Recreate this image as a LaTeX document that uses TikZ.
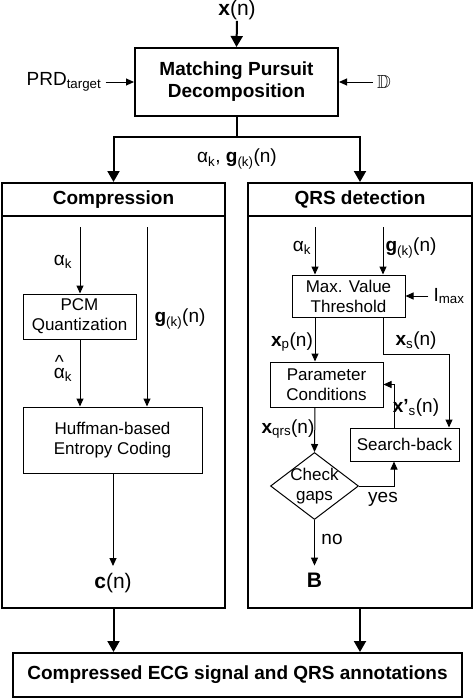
\documentclass[tikz,border=0pt]{standalone}
\usepackage{amssymb}
\usepackage{fontspec}
\setmainfont{Liberation Sans}
\usetikzlibrary{arrows.meta,shapes.geometric,positioning}
\newcommand{\sub}[1]{\textsubscript{#1}}
\newcommand{\hatalpha}{\ooalign{α\cr\hidewidth\raisebox{0.5em}{\^{}}\hidewidth\cr}}

\tikzset{
    blk/.style={draw, line width=1pt, align=center, inner sep=0pt, font=\fontsize{17}{20}\selectfont},
    bigblk/.style={draw, line width=2pt, align=center, inner sep=0pt, font=\bfseries\fontsize{19}{22}\selectfont},
    arr/.style={line width=1pt, -{Triangle[width=7pt,length=8pt]}},
    bigarr/.style={line width=2pt, -{Triangle[width=12pt,length=11pt]}},
    lbl/.style={font=\fontsize{19}{22}\selectfont, inner sep=1pt},
    biglbl/.style={font=\fontsize{21}{24}\selectfont, inner sep=1pt}
}

\begin{document}
\begin{tikzpicture}[x=1pt, y=-1pt]
    \useasboundingbox (0,0) rectangle (474,699);

    % Input and decomposition
    \node[biglbl] (xin) at (237,10) {\textbf{x}(n)};
    \node[bigblk, minimum width=203pt, minimum height=68pt] (mpd) at (236.5,82) {Matching Pursuit\\Decomposition};
    \node[lbl, inner sep=4pt] (prd) at (64,82) {PRD\sub{target}};
    \node[lbl, inner sep=4pt] (dict) at (384,82) {$\mathbb{D}$};
    \draw[bigarr] (xin.south) -- (mpd.north);
    \draw[arr] (prd.east) -- (mpd.west);
    \draw[arr] (dict.west) -- (mpd.east);

    % Two branches
    \node[bigblk, minimum width=223pt, minimum height=33pt] (comphead) at (113.5,199.5) {Compression};
    \node[bigblk, minimum width=223pt, minimum height=392pt] (compbody) at (113.5,412) {};
    \node[bigblk, minimum width=224pt, minimum height=33pt] (qrshead) at (360,199.5) {QRS detection};
    \node[bigblk, minimum width=224pt, minimum height=392pt] (qrsbody) at (360,412) {};
    \coordinate (split) at (236.5,137);
    \draw[line width=2pt] (mpd.south) -- (split);
    \draw[bigarr] (split) -| (comphead.north);
    \draw[bigarr] (split) -| (qrshead.north);
    \node[lbl] (coef) at (237,159) {α\sub{k}, \textbf{g}\sub{(k)}(n)};

    % Compression branch
    \coordinate (ca) at (80,227);
    \coordinate (cg) at (147,227);
    \node[blk, minimum width=113pt, minimum height=45pt] (pcm) at (79.5,316.5) {PCM\\Quantization};
    \node[blk, minimum width=179pt, minimum height=66pt] (huff) at (112.5,440) {Huffman-based\\Entropy Coding};
    \node[biglbl, inner sep=7pt] (cn) at (113,583) {\textbf{c}(n)};
    \draw[arr] (ca) -- (ca |- pcm.north);
    \draw[arr] (ca |- pcm.south) -- (ca |- huff.north);
    \draw[arr] (cg) -- (cg |- huff.north);
    \draw[arr] (huff.south -| cn) -- (cn.north);
    \node[lbl] (calpha) at (63,262) {α\sub{k}};
    \node[lbl] (chat) at (63,375) {\hatalpha\sub{k}};
    \node[lbl] (cgk) at (180,319) {\textbf{g}\sub{(k)}(n)};

    % QRS detection branch
    \coordinate (qa) at (315,227);
    \coordinate (qg) at (383,227);
    \node[blk, minimum width=113pt, minimum height=42pt] (mvt) at (348.5,296) {Max. Value\\Threshold};
    \node[lbl, inner sep=5pt] (imax) at (449,296) {I\sub{max}};
    \node[blk, minimum width=113pt, minimum height=45pt] (param) at (326.5,384.5) {Parameter\\Conditions};
    \node[blk, minimum width=109pt, minimum height=33pt] (sback) at (404.5,444.5) {Search-back};
    \node[blk, diamond, inner sep=-10pt, minimum width=88pt, minimum height=67pt] (check) at (314.5,486) {Check\\gaps};
    \node[biglbl, inner sep=7pt, font=\bfseries\fontsize{21}{24}\selectfont] (bq) at (314.5,580) {B};
    \coordinate (xsr) at (449,354);
    \coordinate (fb) at (394,500);
    \draw[arr] (qa) -- (qa |- mvt.north);
    \draw[arr] (qg) -- (qg |- mvt.north);
    \draw[arr] (imax.west) -- (mvt.east);
    \draw[arr] (qa |- mvt.south) -- (qa |- param.north);
    \draw[arr] (qg |- mvt.south) |- (xsr) -- (xsr |- sback.north);
    \draw[arr] (fb |- sback.north) |- (param.east);
    \draw[arr] (qa |- param.south) -- (check.north);
    \draw[arr] (check.east) -| (fb |- sback.south);
    \draw[arr] (check.south) -- (bq.north);
    \node[lbl] (qalpha) at (302,248) {α\sub{k}};
    \node[lbl] (qgk) at (411,248) {\textbf{g}\sub{(k)}(n)};
    \node[lbl] (xp) at (292,342) {\textbf{x}\sub{p}(n)};
    \node[lbl] (xs) at (416,341) {\textbf{x}\sub{s}(n)};
    \node[lbl] (xps) at (416,408) {\textbf{x'}\sub{s}(n)};
    \node[lbl] (xqrs) at (288,429) {\textbf{x}\sub{qrs}(n)};
    \node[lbl] (yes) at (383,499) {yes};
    \node[lbl] (no) at (332,539) {no};

    % Output
    \node[bigblk, minimum width=449pt, minimum height=44pt] (out) at (237.5,675) {Compressed ECG signal and QRS annotations};
    \draw[bigarr] (compbody.south) -- (compbody.south |- out.north);
    \draw[bigarr] (qrsbody.south) -- (qrsbody.south |- out.north);
\end{tikzpicture}
\end{document}
